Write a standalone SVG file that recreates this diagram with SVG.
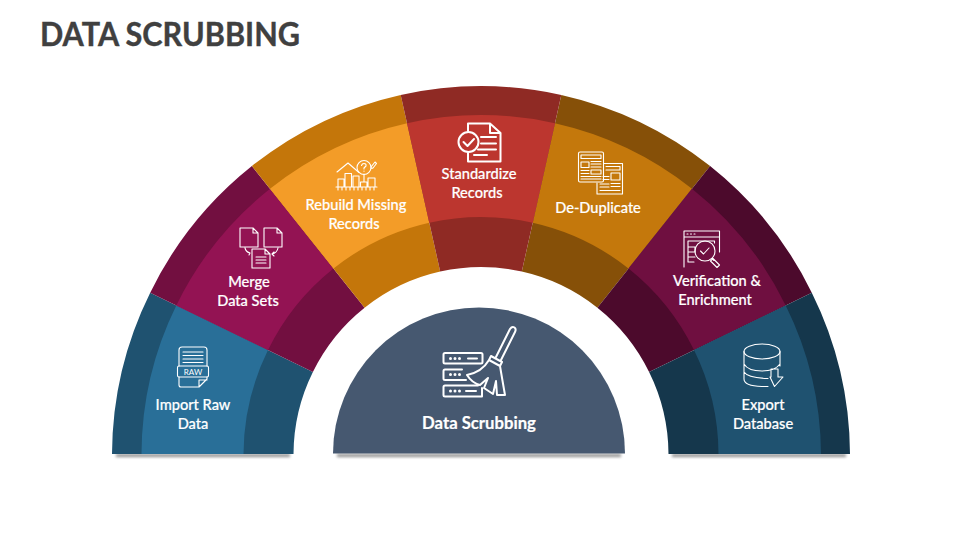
<svg xmlns="http://www.w3.org/2000/svg" width="960" height="540" viewBox="0 0 960 540">
<defs>
<filter id="blur" x="-10%" y="-300%" width="120%" height="700%"><feGaussianBlur stdDeviation="1.5"/></filter>
</defs>
<style>
.t{font-family:"Lato","Liberation Sans",sans-serif;font-size:14.6px;font-weight:500;fill:#fff;stroke:#fff;stroke-width:.2;text-anchor:middle}
.b{font-weight:700;font-size:16.7px}
.i{fill:none;stroke:#fff;stroke-width:1.1;stroke-linejoin:round;stroke-linecap:round}
.i2{fill:none;stroke:#fff;stroke-width:2;stroke-linejoin:round;stroke-linecap:round}
.w{fill:#fff;stroke:none}
.s{fill:#8c8c8c;filter:url(#blur)}
</style>
<rect width="960" height="540" fill="#fff"/>
<text x="40" y="46" font-family="Lato,'Liberation Sans',sans-serif" font-size="33" font-weight="700" fill="#404040" stroke="#404040" stroke-width=".4" textLength="260" lengthAdjust="spacingAndGlyphs">DATA SCRUBBING</text>
<g id="shadows">
<rect class="s" x="116" y="454" width="174" height="3"/>
<rect class="s" x="337" y="454" width="284" height="3"/>
<rect class="s" x="672" y="454" width="174" height="3"/>
</g>
<g id="import-raw">
<path fill="#1F5270" d="M112 454A369 368 0 0 1 150.2 292.7L312.9 372A187 187 0 0 0 293.500 454Z"/>
<path fill="#296F98" d="M141.500 454A340 339 0 0 1 176.300 305.400L268 350.100A237 237 0 0 0 243.500 454Z"/>
<g>
<path class="i" d="M179 366V350Q179 347 182 347H204Q207 347 207 350V366M179 377V385Q179 387 181 387H199L207 379V377M199 387V380H207M183 352H203M183 355.500H203M183 359H203M183 362.500H203"/>
<rect class="i" x="177.500" y="366" width="31" height="11" rx="1.500"/>
<text x="193" y="375" font-family="Lato,sans-serif" font-size="8" fill="#fff" text-anchor="middle">RAW</text>
</g>
<text class="t" x="193" y="410">Import Raw</text>
<text class="t" x="193" y="429">Data</text>
</g>
<g id="merge-data-sets">
<path fill="#720F40" d="M150.200 292.700A369 368 0 0 1 251.900 166L364.600 307.700A187 187 0 0 0 312.900 372Z"/>
<path fill="#931353" d="M176.300 305.400A340 339 0 0 1 270 188.700L333.500 268.500A237 237 0 0 0 268 350.100Z"/>
<g>
<path class="i" d="M240 228H253L258 233V247H240ZM253 228V233H258M264 228H277L282 233V247H264ZM277 228V233H282M252 249H265L270 254V268H252ZM265 249V254H270M256 257H266M256 260H266M256 263H266M245 248Q246 252 250 253M248 252L250 253L249 255M278 248Q277 253 272 254M274 252L272 254L274 256"/>
</g>
<text class="t" x="249" y="287">Merge</text>
<text class="t" x="248" y="306">Data Sets</text>
</g>
<g id="rebuild-missing">
<path fill="#C4760A" d="M251.900 166A369 368 0 0 1 400.700 94.900L440.200 271.500A187 187 0 0 0 364.600 307.700Z"/>
<path fill="#F39C28" d="M270 188.700A340 339 0 0 1 407.100 123.200L429.300 222.700A237 237 0 0 0 333.500 268.500Z"/>
<g>
<path class="i" d="M336 187H377M338 187V190M342 187V190M346 187V190M350 187V190M354 187V190M358 187V190M362 187V190M366 187V190M370 187V190M374 187V190M338 187V179H344V187M345 187V173.500H351.500V187M353 187V176H359V187M360.500 187V182H367V187M368 187V178H375V187M337 172L348 163L359 172.500M364 174V182"/>
<circle class="i" cx="364" cy="167.500" r="7"/>
<path class="i" d="M361.500 165.500Q362 163.500 364 163.500Q366.500 163.500 366 166Q365 167 364 168V169M364 171V171.200M371 167L375 162L376.500 163.500L373 168Q371 169 371 167Z"/>
</g>
<text class="t" x="356" y="210">Rebuild Missing</text>
<text class="t" x="354" y="229">Records</text>
</g>
<g id="de-duplicate">
<path fill="#865008" d="M561.300 94.900A369 368 0 0 1 710.100 166L597.400 307.700A187 187 0 0 0 521.800 271.500Z"/>
<path fill="#C4780C" d="M554.900 123.200A340 339 0 0 1 692 188.700L628.500 268.500A237 237 0 0 0 532.700 222.700Z"/>
<g>
<rect class="i" x="578.500" y="152" width="25" height="30" rx="1.500"/>
<path class="i" d="M581 155H601V158.500H581ZM581 162H589V167.500H581ZM591 161.500H601M591 164H601M591 167H601M581 170.500H589M581 173.500H589M581 176.500H601M581 179H601M591 170V174H601V170Z"/>
<path class="i" d="M604 163.500H622.500V194H597V183M606 166.500H620V170H606M611 173H620V180H611ZM603 176.500H609M603 179.500H609M600 184H609M600 187H609M600 190.500H620M611 183.500H620M611 186.500H620"/>
</g>
<text class="t" x="598" y="213">De-Duplicate</text>
</g>
<g id="verification">
<path fill="#4C0A2C" d="M710.100 166A369 368 0 0 1 811.800 292.700L649.100 372A187 187 0 0 0 597.400 307.700Z"/>
<path fill="#6F0F40" d="M692 188.700A340 339 0 0 1 785.700 305.400L694 350.100A237 237 0 0 0 628.500 268.500Z"/>
<g>
<path class="i" d="M684 267V231H719.500V252M684 237H719.500M687 234H688M690.500 234H691.500M694 234H695M688 262V241H714.500V243M688 247H695V252H688M688 257H695M688 262H694"/>
<circle class="i" cx="705" cy="251" r="10"/>
<path class="i" d="M700.500 251L703.500 254L709 248M712 258.500L714 260.500M713 258.500L719.500 265L717 267.500L710.500 261Z"/>
</g>
<text class="t" x="717" y="286">Verification &amp;</text>
<text class="t" x="715" y="305">Enrichment</text>
</g>
<g id="export-database">
<path fill="#15374C" d="M811.800 292.700A369 368 0 0 1 850 454H668.500A187 187 0 0 0 649.100 372Z"/>
<path fill="#1F5270" d="M785.700 305.400A340 339 0 0 1 821 454H718.500A237 237 0 0 0 694 350.100Z"/>
<g>
<ellipse class="i" cx="762" cy="351.500" rx="18" ry="7.500"/>
<path class="i" d="M744 351.500V379Q744 386 762 386.500H768M780 351.500V366M744 364Q748 371 762 371Q775 371 780 364M744 372Q748 378 768 378.500M771 369H778V377H783L774.500 386.500L770 377H771Z"/>
</g>
<text class="t" x="763" y="410">Export</text>
<text class="t" x="763" y="429">Database</text>
</g>
<g id="standardize">
<path fill="#8F2A24" d="M400.700 94.900A369 368 0 0 1 561.300 94.900L521.800 271.500A187 187 0 0 0 440.200 271.500Z"/>
<path fill="#BC362F" d="M407.100 123.200A340 339 0 0 1 554.900 123.200L532.700 222.700A237 237 0 0 0 429.300 222.700Z"/>
<g>
<path class="i2" d="M468 131V123.500H490L500.500 133V161.500H468V153M490 123.500V133H500.500M481 137H496M481 143.500H496M478 149.500H496M474 155H487"/>
<circle class="i2" cx="468.500" cy="142" r="10"/>
<path class="i2" d="M463.500 142L467.500 146L474 139"/>
</g>
<text class="t" x="479" y="179">Standardize</text>
<text class="t" x="477" y="198">Records</text>
</g>
<g id="data-scrubbing">
<path fill="#465870" d="M333 453.500A146 146 0 0 1 625 453.500Z"/>
<g>
<path class="i2" d="M445 353H481Q482.500 353 482.500 354.500V362Q482.500 363.500 481 363.500H445Q443.500 363.500 443.500 362V354.500Q443.500 353 445 353ZM468 358.500H477M462 369.500H445Q443.500 369.500 443.500 371V378.500Q443.500 380 445 380H466M445 385.500Q443.500 385.500 443.500 387V395Q443.500 396.500 445 396.500H482V388M445 385.500H478M466 391H476"/>
<path class="w" d="M449 358.500a1.500 1.500 0 1 0 3 0a1.500 1.500 0 1 0 -3 0M453.500 358.500a1.500 1.500 0 1 0 3 0a1.500 1.500 0 1 0 -3 0M458 358.500a1.500 1.500 0 1 0 3 0a1.500 1.500 0 1 0 -3 0M449 374.500a1.500 1.500 0 1 0 3 0a1.500 1.500 0 1 0 -3 0M453.500 374.500a1.500 1.500 0 1 0 3 0a1.500 1.500 0 1 0 -3 0M458 374.500a1.500 1.500 0 1 0 3 0a1.500 1.500 0 1 0 -3 0M449 391a1.500 1.500 0 1 0 3 0a1.500 1.500 0 1 0 -3 0M453.500 391a1.500 1.500 0 1 0 3 0a1.500 1.500 0 1 0 -3 0M458 391a1.500 1.500 0 1 0 3 0a1.500 1.500 0 1 0 -3 0"/>
<path class="i2" d="M496 357L510 329Q512 326 514.500 327.500Q516.500 329 515 332L501 360M491 356L502 362L500 366L489 360ZM489 360Q482 372 467 375Q472 383 480 385L488 378L484 388L493 394L496 381L497 395H505Q502 378 500 366"/>
</g>
<text class="t b" x="479" y="429">Data Scrubbing</text>
</g>
</svg>
